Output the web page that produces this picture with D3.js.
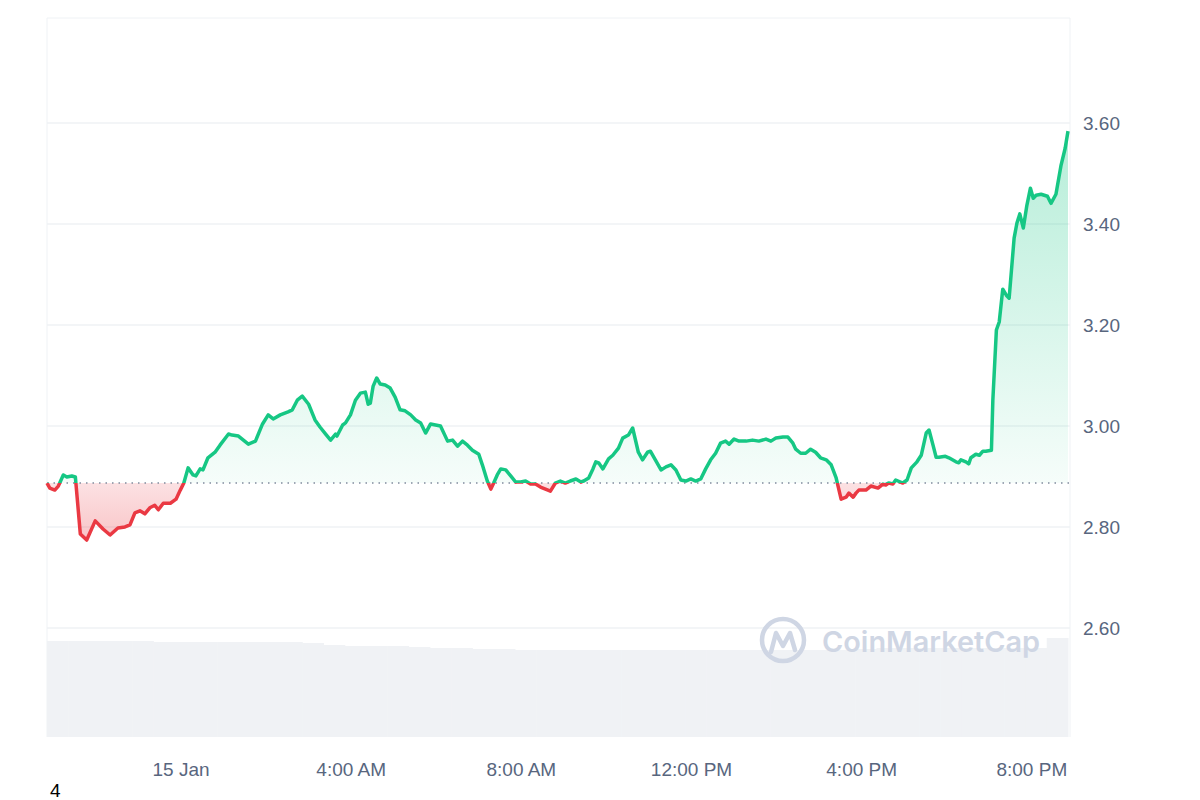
<!DOCTYPE html>
<html>
<head>
<meta charset="utf-8">
<script src="https://cdn.jsdelivr.net/npm/d3@7"></script>
<style>
  body { margin: 0; background: #fff; }
  text { font-family: "Liberation Sans", Arial, sans-serif; }
</style>
</head>
<body>
<svg id="chart" width="1200" height="800"></svg>
<script>
// minutes since 14 Jan 20:51
const minutes = [0,4,11,16,23,28,35,40,47,56,68,79,89,100,110,117,124,131,138,145,152,157,164,174,182,188,193,199,206,210,216,220,227,237,244,256,261,270,277,284,294,304,312,319,329,340,346,353,360,369,378,385,393,400,407,409,417,421,428,435,442,449,453,456,460,465,470,477,484,491,498,505,513,520,527,534,541,555,565,572,579,586,593,600,609,614,621,626,630,635,640,647,654,661,668,675,682,689,696,703,710,717,724,731,738,746,753,757,764,770,774,778,784,792,798,806,812,820,826,834,840,847,851,858,866,873,880,887,894,901,908,915,922,929,936,943,950,957,962,969,976,986,995,1004,1014,1021,1028,1038,1045,1052,1056,1063,1070,1077,1084,1091,1099,1106,1113,1120,1127,1131,1137,1141,1145,1155,1162,1172,1179,1183,1187,1193,1197,1207,1213,1219,1227,1233,1240,1244,1250,1254,1258,1267,1272,1282,1286,1289,1296,1300,1303,1310,1315,1320,1324,1332,1334,1339,1343,1348,1353,1357,1364,1368,1372,1377,1382,1387,1391,1395,1402,1411,1416,1423,1430,1436,1440];
const prices = [2.887,2.877,2.873,2.881,2.903,2.899,2.901,2.899,2.786,2.774,2.812,2.796,2.784,2.798,2.800,2.804,2.828,2.832,2.826,2.838,2.843,2.834,2.847,2.847,2.855,2.873,2.887,2.917,2.903,2.901,2.915,2.913,2.937,2.948,2.962,2.984,2.982,2.980,2.972,2.964,2.970,3.004,3.022,3.014,3.022,3.028,3.032,3.051,3.059,3.043,3.012,2.998,2.984,2.972,2.984,2.980,3.002,3.006,3.022,3.051,3.065,3.067,3.043,3.045,3.079,3.095,3.083,3.081,3.075,3.057,3.032,3.030,3.022,3.012,3.006,2.986,3.004,3.000,2.970,2.972,2.960,2.970,2.962,2.952,2.944,2.923,2.891,2.875,2.887,2.903,2.915,2.913,2.901,2.889,2.889,2.891,2.885,2.885,2.879,2.875,2.871,2.887,2.891,2.887,2.891,2.895,2.889,2.891,2.897,2.915,2.929,2.927,2.915,2.935,2.942,2.956,2.976,2.982,2.996,2.948,2.933,2.948,2.950,2.933,2.913,2.919,2.923,2.913,2.893,2.891,2.895,2.891,2.895,2.915,2.933,2.946,2.966,2.970,2.964,2.974,2.970,2.970,2.972,2.970,2.974,2.970,2.976,2.978,2.978,2.966,2.954,2.946,2.946,2.954,2.948,2.937,2.933,2.923,2.897,2.855,2.859,2.867,2.859,2.867,2.873,2.873,2.881,2.877,2.885,2.883,2.887,2.885,2.893,2.887,2.893,2.917,2.929,2.942,2.986,2.992,2.960,2.938,2.938,2.940,2.937,2.929,2.927,2.933,2.929,2.925,2.937,2.944,2.942,2.950,2.950,2.952,3.051,3.190,3.206,3.271,3.259,3.253,3.372,3.402,3.420,3.392,3.437,3.471,3.451,3.457,3.459,3.455,3.441,3.459,3.515,3.550,3.584];
// volume, relative units, one per 30 minutes
const volume = [96,96,96,96,96,95,95,95,95,95,95,95,94,92,91,91,91,90,89,89,88,88,87,87,87,87,87,87,87,87,87,87,87,87,87,87,87,87,88,89,89,89,89,89,89,89,89,99];
const openPrice = 2.887;
const yTicks = [2.6, 2.8, 3.0, 3.2, 3.4, 3.6];
const xTickHours = [0, 4, 8, 12, 16, 20];
const xTickLabels = ["15 Jan", "4:00 AM", "8:00 AM", "12:00 PM", "4:00 PM", "8:00 PM"];

const start = new Date(2024, 0, 14, 20, 51);
const toDate = m => new Date(start.getTime() + m * 60000);
const data = minutes.map((m, i) => ({t: toDate(m), p: prices[i]}));

const plotL = 47, plotR = 1070, plotT = 18, plotB = 737;
const svg = d3.select("#chart");

const x = d3.scaleTime().domain([start, toDate(1440)]).range([plotL, 1068]);
const y = d3.scaleLinear().domain([2.384, 3.808]).range([plotB, plotT]);
const vy = d3.scaleLinear().domain([0, 100]).range([plotB, 637]);

const defs = svg.append("defs");
const gUp = defs.append("linearGradient").attr("id", "gUp")
    .attr("gradientUnits", "userSpaceOnUse").attr("x1", 0).attr("x2", 0).attr("y1", y(3.6)).attr("y2", y(openPrice));
gUp.append("stop").attr("offset", 0).attr("stop-color", "#16c784").attr("stop-opacity", 0.32);
gUp.append("stop").attr("offset", 1).attr("stop-color", "#16c784").attr("stop-opacity", 0.04);
const gDn = defs.append("linearGradient").attr("id", "gDn")
    .attr("gradientUnits", "userSpaceOnUse").attr("x1", 0).attr("x2", 0).attr("y1", y(openPrice)).attr("y2", y(2.77));
gDn.append("stop").attr("offset", 0).attr("stop-color", "#ea3943").attr("stop-opacity", 0.15);
gDn.append("stop").attr("offset", 1).attr("stop-color", "#ea3943").attr("stop-opacity", 0.3);

defs.append("clipPath").attr("id", "above").append("rect")
    .attr("x", 0).attr("y", 0).attr("width", 1200).attr("height", y(openPrice));
defs.append("clipPath").attr("id", "below").append("rect")
    .attr("x", 0).attr("y", y(openPrice)).attr("width", 1200).attr("height", 800);

// frame and grid
svg.append("line").attr("x1", plotL).attr("x2", plotR).attr("y1", plotT).attr("y2", plotT).attr("stroke", "#eff2f5");
svg.append("line").attr("x1", plotL).attr("x2", plotL).attr("y1", plotT).attr("y2", plotB).attr("stroke", "#eff2f5");
svg.append("line").attr("x1", plotR).attr("x2", plotR).attr("y1", plotT).attr("y2", plotB).attr("stroke", "#eff2f5");
svg.selectAll(".grid").data(yTicks).join("line")
    .attr("x1", plotL).attr("x2", plotR)
    .attr("y1", d => y(d)).attr("y2", d => y(d))
    .attr("stroke", "#eff2f5").attr("stroke-width", 1.5);

// volume bars
const barW = (x(toDate(30)) - x(toDate(0)));
svg.selectAll(".vol").data(volume).join("rect")
    .attr("x", (d, i) => x(toDate(i * 30)))
    .attr("y", d => vy(d))
    .attr("width", barW + 0.5)
    .attr("height", d => plotB - vy(d))
    .attr("fill", "#f0f2f5");

// watermark
const wm = svg.append("g");
wm.append("circle").attr("cx", 783).attr("cy", 640).attr("r", 21)
    .attr("fill", "none").attr("stroke", "#cfd6e4").attr("stroke-width", 4.5);
wm.append("path").attr("d", "M771,652 L776,633 L783,646 L790,633 L795,650")
    .attr("fill", "none").attr("stroke", "#cfd6e4").attr("stroke-width", 4.5)
    .attr("stroke-linejoin", "round").attr("stroke-linecap", "round");
wm.append("text").attr("x", 822).attr("y", 652).text("CoinMarketCap")
    .attr("font-size", 29).attr("font-weight", 600).attr("fill", "#cfd6e4")
    .attr("textLength", 218).attr("lengthAdjust", "spacingAndGlyphs")
    .style("font-family", "Inter, 'Noto Sans', sans-serif");

// areas
const area = d3.area().x(d => x(d.t)).y0(y(openPrice)).y1(d => y(d.p));
svg.append("path").datum(data).attr("d", area).attr("fill", "url(#gUp)").attr("clip-path", "url(#above)");
svg.append("path").datum(data).attr("d", area).attr("fill", "url(#gDn)").attr("clip-path", "url(#below)");

// baseline
svg.append("line").attr("x1", plotL).attr("x2", plotR).attr("y1", y(openPrice)).attr("y2", y(openPrice))
    .attr("stroke", "#808a9d").attr("stroke-width", 1.5).attr("stroke-dasharray", "1.5,5");

// price line
const line = d3.line().x(d => x(d.t)).y(d => y(d.p));
svg.append("path").datum(data).attr("d", line).attr("fill", "none")
    .attr("stroke", "#16c784").attr("stroke-width", 3.5).attr("stroke-linejoin", "round").attr("clip-path", "url(#above)");
svg.append("path").datum(data).attr("d", line).attr("fill", "none")
    .attr("stroke", "#ea3943").attr("stroke-width", 3.5).attr("stroke-linejoin", "round").attr("clip-path", "url(#below)");

// y axis labels
svg.selectAll(".ylab").data(yTicks).join("text")
    .attr("x", 1083).attr("y", d => y(d) + 7)
    .attr("font-size", 19).attr("fill", "#58667e")
    .text(d => d.toFixed(2));

// x axis labels
svg.selectAll(".xlab").data(xTickHours).join("text")
    .attr("x", h => x(toDate(189 + h * 60)))
    .attr("y", 776).attr("text-anchor", "middle")
    .attr("font-size", 19).attr("fill", "#58667e")
    .text((h, i) => xTickLabels[i]);

svg.append("text").attr("x", 50).attr("y", 797).attr("font-size", 19).attr("fill", "#000").text("4");
</script>
</body>
</html>
